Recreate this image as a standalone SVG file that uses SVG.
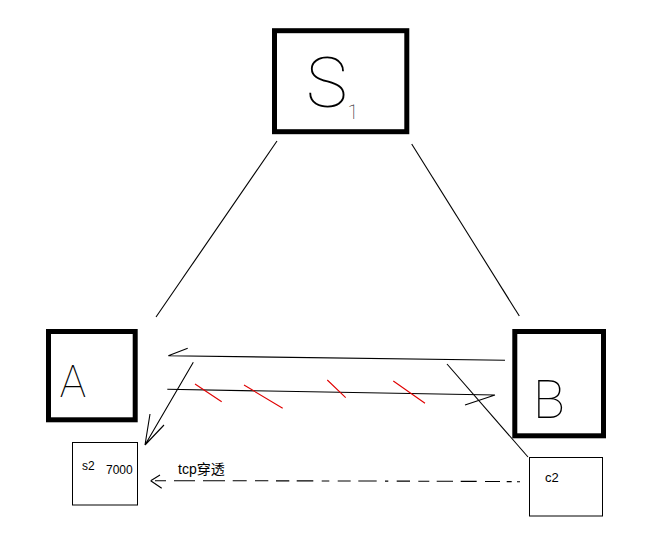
<svg xmlns="http://www.w3.org/2000/svg" width="656" height="552" viewBox="0 0 656 552">
<style>
.thick{fill:#fff;stroke:#000;stroke-width:5}
.thin{fill:#fff;stroke:#000;stroke-width:1}
.hand{font-family:Roboto,"DejaVu Sans",sans-serif;font-weight:100;fill:#000}
.lbl{font-family:"Liberation Sans","Noto Sans CJK SC",sans-serif;fill:#000}
.ln{fill:none;stroke:#000;stroke-width:1.1}
.red{fill:none;stroke:#e00000;stroke-width:1.1}
</style>
<rect width="656" height="552" fill="#fff"/>
<g id="S1">
<rect class="thick" x="274.5" y="30.7" width="132.3" height="101"/>
<text class="hand" x="306" y="107" font-size="70">S<tspan font-size="20" dy="12">1</tspan></text>
</g>
<g id="A">
<rect class="thick" x="48.5" y="331.5" width="86.7" height="88.3"/>
<text class="hand" x="73" y="397" font-size="44" text-anchor="middle">A</text>
</g>
<g id="B">
<rect class="thick" x="514.8" y="331.5" width="88.7" height="104.3"/>
<text class="hand" x="533" y="417.5" font-size="53">B</text>
</g>
<g id="s2">
<rect class="thin" x="72.5" y="442.5" width="65" height="62.5"/>
<text class="lbl" x="82" y="470" font-size="12">s2</text>
<text class="lbl" x="106" y="474" font-size="12">7000</text>
</g>
<g id="c2">
<rect class="thin" x="529.5" y="457.5" width="73" height="58.5"/>
<text class="lbl" x="545" y="481.7" font-size="13">c2</text>
</g>
<g id="connectors">
<line class="ln" x1="277" y1="141" x2="156" y2="317"/>
<line class="ln" x1="411.7" y1="144" x2="519.3" y2="316"/>
<path class="ln" d="M505 360.3 L168.3 355.7 M168.3 355.7 L187.7 348.3"/>
<path class="ln" d="M167.3 389.3 L495 395 M495 395 L465 405"/>
<path class="ln" d="M193.3 362.3 L145 445 M145 445 L150 414 M145 445 L164 425"/>
<line class="ln" x1="447" y1="364" x2="528" y2="457"/>
<path class="red" d="M195 384 L221.7 401.7 M244 385 L282.7 408.3 M327.3 380 L345.7 397.7 M393.3 381 L425 403.3"/>
<path class="ln" stroke-width="1.3" d="M150.7 480.7 L160 475 M150.7 480.7 L161.7 488.3 M155 480.7 H166 M174 480.7 H195 M203 480.8 H225 M232.7 480.8 H246.7 M255 480.8 H268.3 M276 480.9 H289.3 M296.7 480.9 H313.3 M321.7 481 H329.3 M337.7 481 H350.7 M358.3 481 H376.7 M385 481.1 H388.3 M396.7 481.1 H410 M418.3 481.2 H429.3 M436.7 481.3 H453 M460.7 481.4 H476.7 M485 481.5 H500 M506.7 481.6 H511.7 M517 481.7 H520"/>
<text class="lbl" x="178" y="474" font-size="14">tcp穿透</text>
</g>
</svg>
